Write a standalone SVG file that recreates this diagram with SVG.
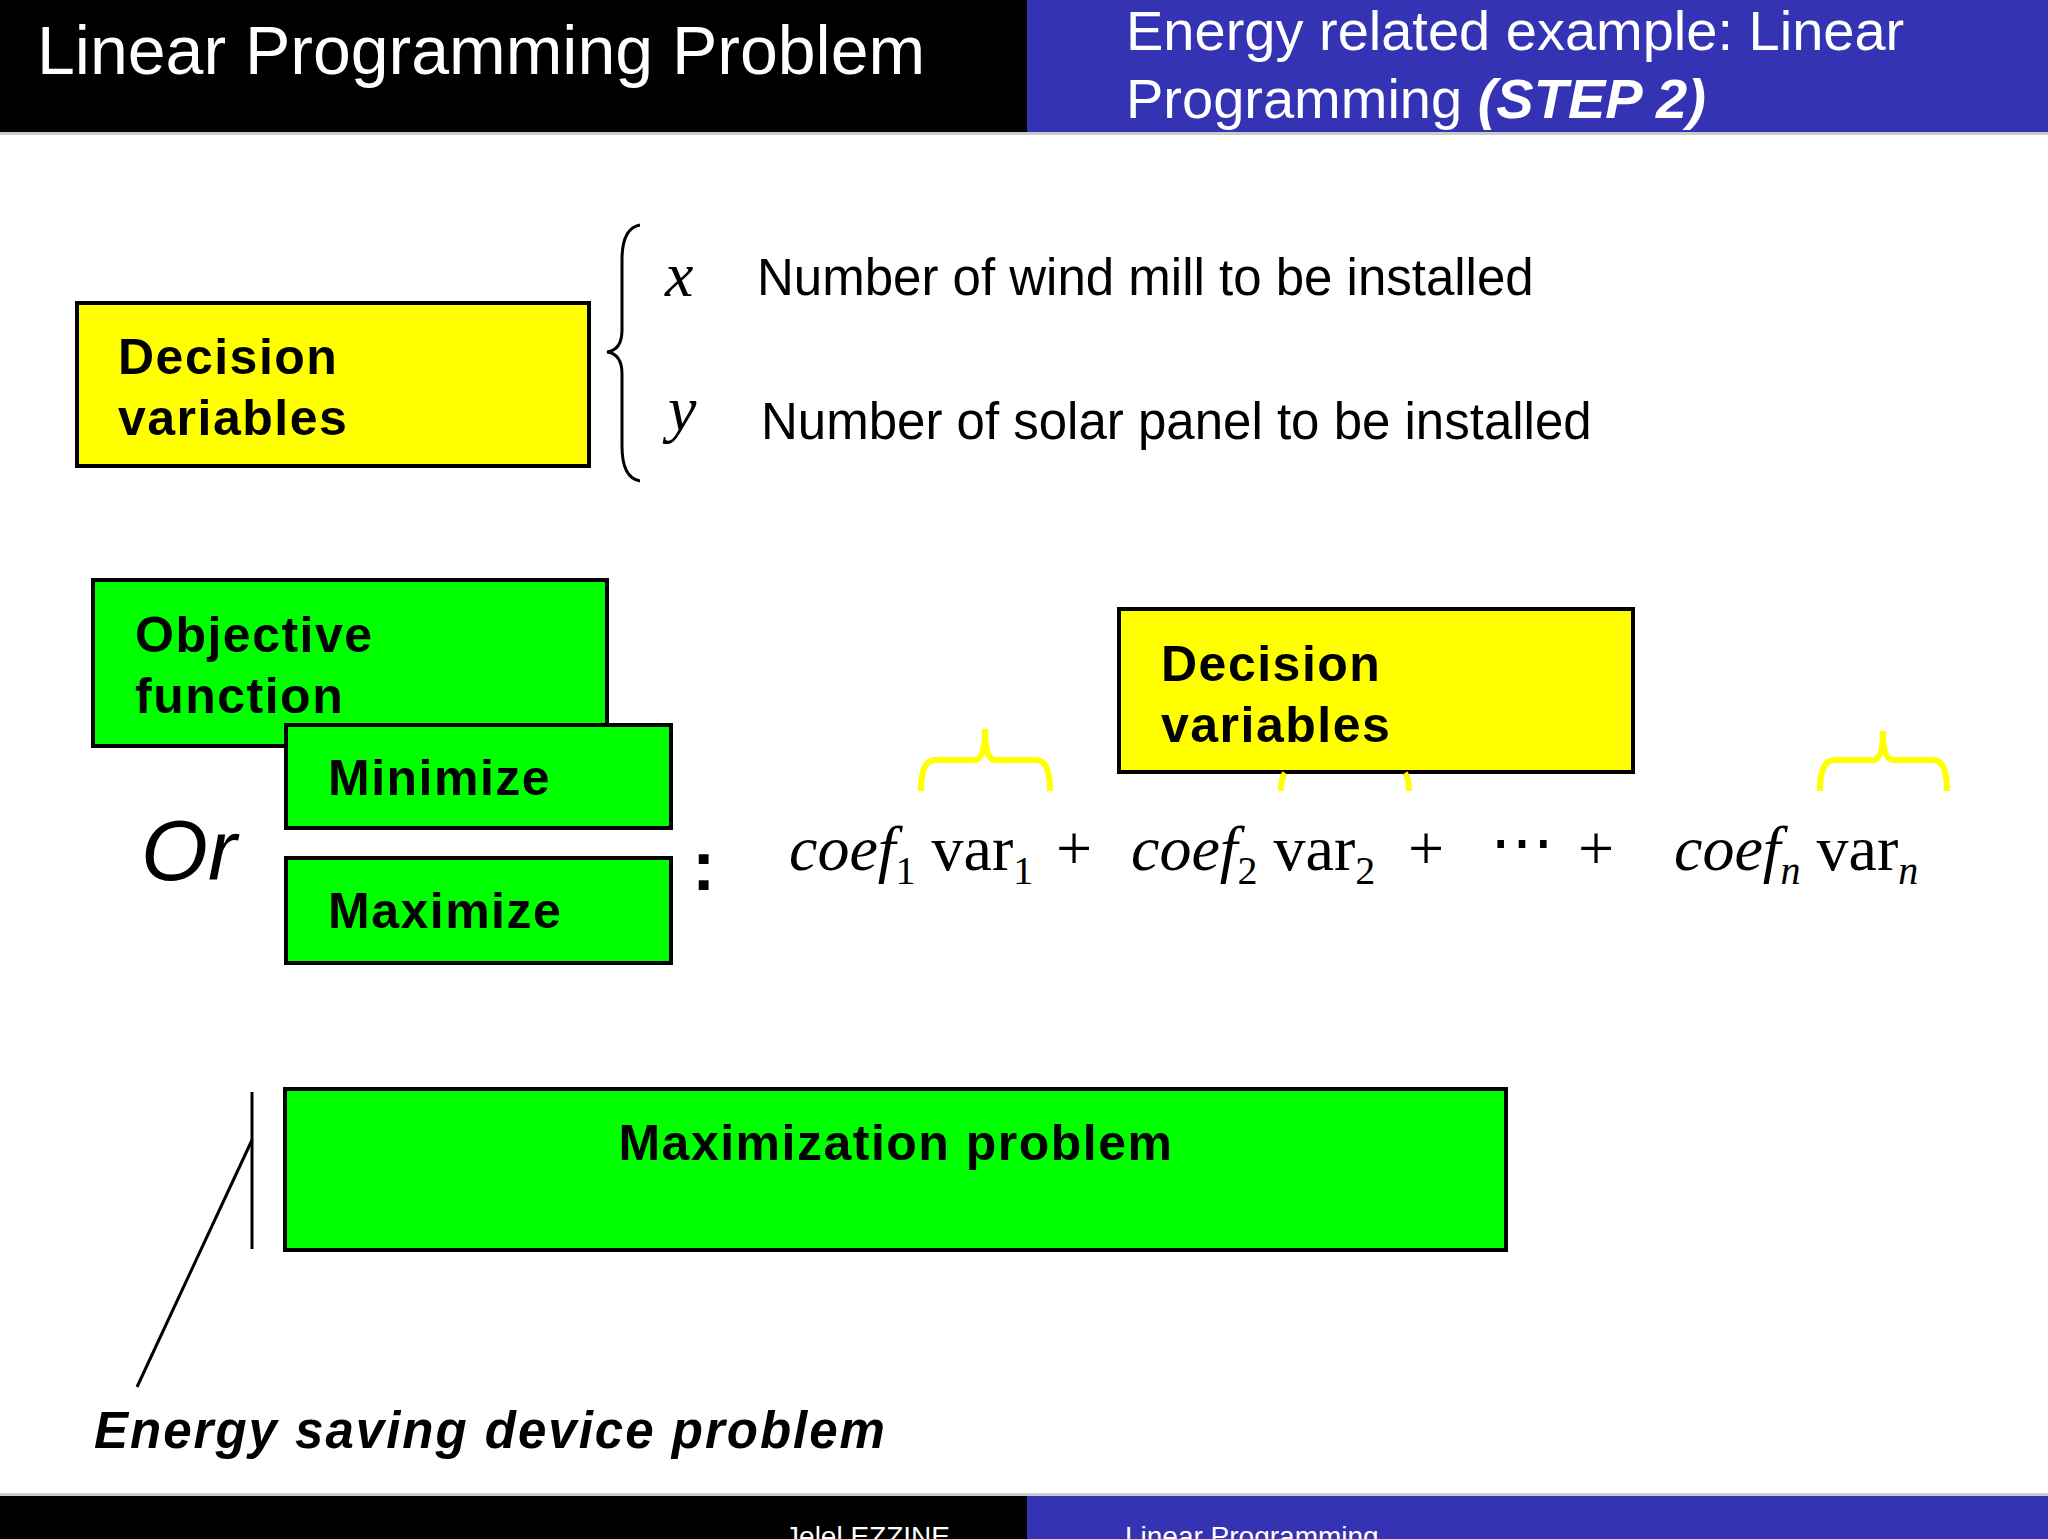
<svg xmlns="http://www.w3.org/2000/svg" width="2048" height="1539" viewBox="0 0 2048 1539">
<style>
.box{stroke:#000;stroke-width:4}
.y{fill:#ffff00}.g{fill:#00ff00}
.bt{font-family:"Liberation Sans",Arial,sans-serif;font-weight:bold;font-size:50px;letter-spacing:1.5px;fill:#000}
.m{font-family:"Liberation Serif","Times New Roman",serif;font-size:64px;fill:#000}
.sub{font-size:40px}
.yb{fill:none;stroke:#ffff00;stroke-width:6}
</style>
<rect width="2048" height="1539" fill="#fff"/>
<g id="header">
<rect x="0" y="0" width="1027" height="132" fill="#000"/>
<rect x="1027" y="0" width="1021" height="132" fill="#3333b3"/>
<rect x="0" y="132" width="2048" height="3" fill="#ccc"/>
<text x="37" y="74" font-family="Liberation Sans,Arial,sans-serif" font-size="68" fill="#fff">Linear Programming Problem</text>
<text x="1126" y="50" font-family="Liberation Sans,Arial,sans-serif" font-size="56" fill="#fff">Energy related example: Linear</text>
<text x="1126" y="118" font-family="Liberation Sans,Arial,sans-serif" font-size="56" fill="#fff">Programming <tspan font-weight="bold" font-style="italic">(STEP 2)</tspan></text>
</g>
<g id="dv1"><rect class="box y" x="77" y="303" width="512" height="163"/>
<text class="bt" x="118" y="374">Decision</text><text class="bt" x="118" y="435">variables</text></g>
<g id="brace"><path d="M640,225 Q622,228 622,260 L622,330 Q622,350 607,352 Q622,354 622,374 L622,446 Q622,478 640,481" fill="none" stroke="#000" stroke-width="3"/></g>
<g id="vars">
<text class="m" x="665" y="296" font-style="italic" font-size="72">x</text>
<text x="757" y="295" font-family="Liberation Sans,Arial,sans-serif" font-size="51">Number of wind mill to be installed</text>
<text class="m" x="668" y="430" font-style="italic" font-size="72">y</text>
<text x="761" y="439" font-family="Liberation Sans,Arial,sans-serif" font-size="51">Number of solar panel to be installed</text>
</g>
<g id="obj"><rect class="box g" x="93" y="580" width="514" height="166"/>
<text class="bt" x="135" y="652">Objective</text><text class="bt" x="135" y="713">function</text></g>
<g id="min"><rect class="box g" x="286" y="725" width="385" height="103"/><text class="bt" x="328" y="795">Minimize</text></g>
<g id="max"><rect class="box g" x="286" y="858" width="385" height="105"/><text class="bt" x="328" y="928">Maximize</text></g>
<text x="141" y="880" font-family="Liberation Sans,Arial,sans-serif" font-style="italic" font-size="86">Or</text>
<text x="692" y="890" font-family="Liberation Sans,Arial,sans-serif" font-weight="bold" font-size="70">:</text>
<g id="dv2"><rect class="box y" x="1119" y="609" width="514" height="163"/>
<text class="bt" x="1161" y="681">Decision</text><text class="bt" x="1161" y="742">variables</text></g>
<g id="formula">
<text class="m" x="789" y="870"><tspan font-style="italic">coef</tspan><tspan class="sub" dy="14">1</tspan><tspan dy="-14"> var</tspan><tspan class="sub" dy="14">1</tspan></text>
<text class="m" x="1056" y="870">+</text>
<text class="m" x="1131" y="870"><tspan font-style="italic">coef</tspan><tspan class="sub" dy="14">2</tspan><tspan dy="-14"> var</tspan><tspan class="sub" dy="14">2</tspan></text>
<text class="m" x="1408" y="870">+</text>
<text class="m" x="1490" y="864">⋯</text>
<text class="m" x="1578" y="870">+</text>
<text class="m" x="1674" y="870"><tspan font-style="italic">coef</tspan><tspan class="sub" font-style="italic" dy="14">n</tspan><tspan dy="-14"> var</tspan><tspan class="sub" font-style="italic" dy="14">n</tspan></text>
</g>
<g id="connectors">
<path class="yb" d="M921,791 Q921,760 935,760 L975,760 Q985,760 985,729 Q985,760 995,760 L1036,760 Q1050,760 1050,791"/>
<path class="yb" d="M1281,791 Q1281,778 1285,773 M1405,773 Q1409,778 1409,791"/>
<path class="yb" d="M1820,791 Q1820,760 1834,760 L1873,760 Q1883,760 1883,731 Q1883,760 1893,760 L1933,760 Q1947,760 1947,791"/>
<line x1="252" y1="1092" x2="252" y2="1249" stroke="#000" stroke-width="3"/>
<line x1="252" y1="1140" x2="137" y2="1387" stroke="#000" stroke-width="3"/>
</g>
<g id="maxp"><rect class="box g" x="285" y="1089" width="1221" height="161"/>
<text class="bt" x="896" y="1160" text-anchor="middle" letter-spacing="0.5">Maximization problem</text></g>
<text x="94" y="1448" font-family="Liberation Sans,Arial,sans-serif" font-weight="bold" font-style="italic" font-size="51" letter-spacing="2">Energy saving device problem</text>
<g id="footer">
<rect x="0" y="1493" width="2048" height="3" fill="#ccc"/>
<rect x="0" y="1496" width="1027" height="43" fill="#000"/>
<rect x="1027" y="1496" width="1021" height="43" fill="#3333b3"/>
<text x="950" y="1546" text-anchor="end" font-family="Liberation Sans,Arial,sans-serif" font-size="28" fill="#fff">Jelel EZZINE</text>
<text x="1125" y="1546" font-family="Liberation Sans,Arial,sans-serif" font-size="28" fill="#fff">Linear Programming</text>
</g>
</svg>
